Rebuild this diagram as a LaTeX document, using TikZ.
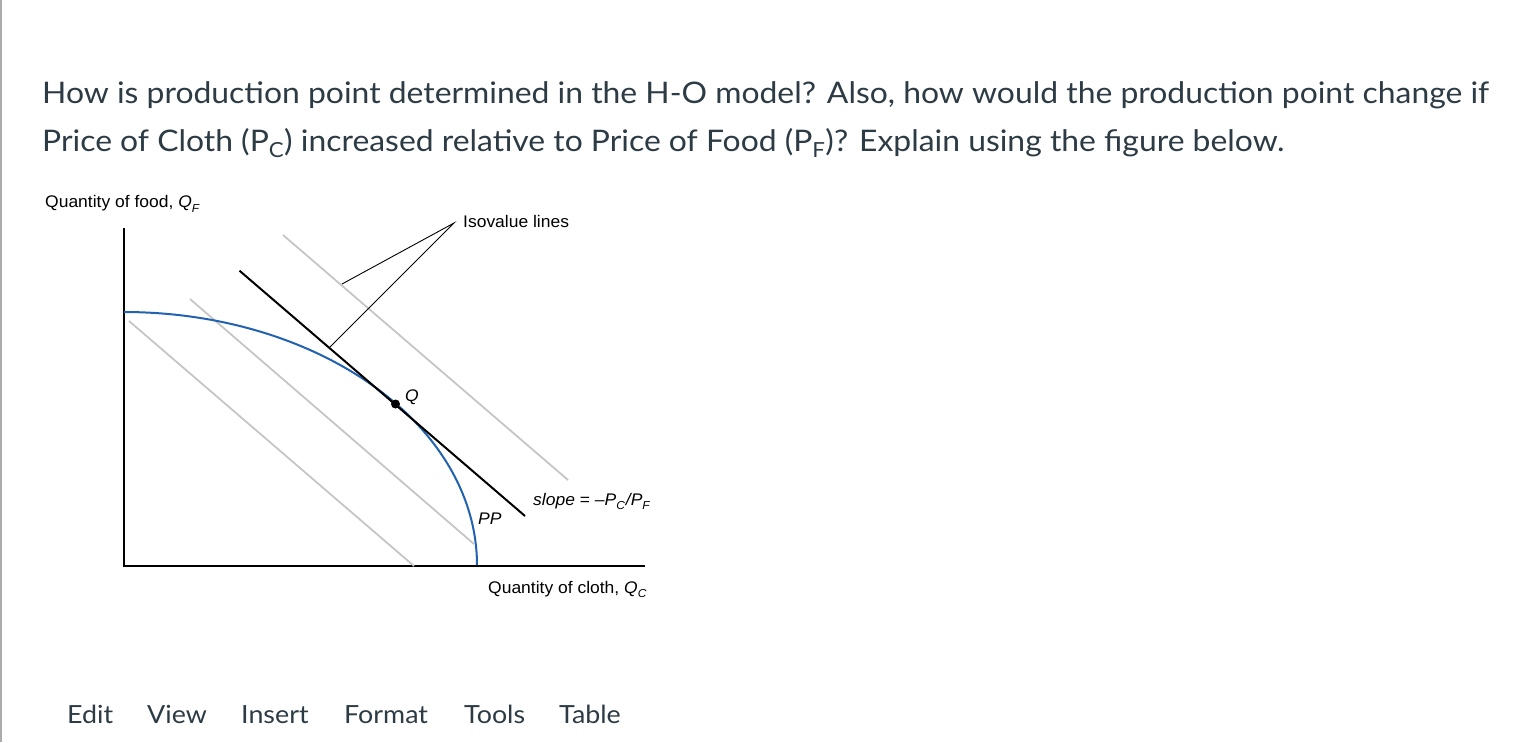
\documentclass[tikz,border=0pt]{standalone}
\usepackage{fontspec}
\setmainfont{Lato}[FakeStretch=1.073]
\newfontfamily\diagfont{Liberation Sans}[FakeStretch=1.04]
\newcommand{\dsub}[1]{\raisebox{-0.55ex}{\fontsize{11.5}{12}\selectfont\textit{#1}}}
\definecolor{qtext}{HTML}{2D3B45}
\definecolor{ppblue}{HTML}{2262B0}
\definecolor{isogray}{HTML}{C6C6C6}
\definecolor{sidebar}{HTML}{ABABAB}
\begin{document}
\begin{tikzpicture}[x=1pt,y=-1pt,
  question/.style={inner sep=0pt, anchor=base west, text=qtext, font=\fontsize{29.7}{35}\selectfont},
  menuitem/.style={inner sep=0pt, anchor=base west, text=qtext, font=\fontsize{25}{29}\selectfont},
  lbl/.style={inner sep=0pt, anchor=base west, text=black, font=\diagfont\fontsize{16.8}{19}\selectfont},
  axis/.style={line width=2pt, black},
  isoline/.style={line width=1.8pt, isogray},
  tangent/.style={line width=2pt, black},
  pointer/.style={line width=0.9pt, black},
  ppcurve/.style={line width=2pt, ppblue}]
\useasboundingbox (0,0) rectangle (1528,742);
\fill[white] (0,0) rectangle (1528,742);
\fill[sidebar] (0,0) rectangle (2,742);
% question
\node[question] (q1) at (42,103) {How is production point determined in the H-O model? Also, how would the production point change if};
\node[question] (q2) at (42,151) {Price of Cloth (P\textsubscript{C}) increased relative to Price of Food (P\textsubscript{F})? Explain using the figure below.};
% axes
\coordinate (ytop) at (124,228);
\coordinate (origin) at (124,566);
\coordinate (xend) at (645,566);
\draw[axis] (ytop) -- (origin) -- (xend);
% isovalue lines
\coordinate (i1a) at (129,321); \coordinate (i1b) at (414,566);
\coordinate (i2a) at (190,299); \coordinate (i2b) at (474,544);
\coordinate (i3a) at (283,235); \coordinate (i3b) at (568,480);
\draw[isoline] (i1a) -- (i1b);
\draw[isoline] (i2a) -- (i2b);
\draw[isoline] (i3a) -- (i3b);
% PP curve
\draw[ppcurve] plot[domain=90:0, samples=80, smooth] ({124+353*cos(\x)},{565-253*sin(\x)});
% tangent
\coordinate (ta) at (239.5,270.7); \coordinate (tb) at (525,516);
\draw[tangent] (ta) -- (tb);
\coordinate (Qpt) at (395.5,404);
\fill[black] (Qpt) circle (4.5);
% labels
\node[lbl] (yl) at (45,207.5) {Quantity of food, \textit{Q}\dsub{F}};
\node[lbl] (iso) at (463,227) {Isovalue lines};
\coordinate (apex) at (454,223);
\coordinate (p1) at (342,284);
\coordinate (p2) at (330,347);
\draw[pointer] (p1) -- (apex) -- (p2);
\node[lbl] (ql) at (405,401) {\textit{Q}};
\node[lbl] (sl) at (533,505) {\textit{slope} = \textit{–P}\dsub{C}\kern1pt\textit{/P}\dsub{F}};
\node[lbl] (pp) at (478,524) {\textit{PP}};
\node[lbl] (xl) at (488,593) {Quantity of cloth, \textit{Q}\dsub{C}};
% menu
\node[menuitem] (m1) at (67,723) {Edit};
\node[menuitem] (m2) at (147,723) {View};
\node[menuitem] (m3) at (241,723) {Insert};
\node[menuitem] (m4) at (344,723) {Format};
\node[menuitem] (m5) at (464,723) {Tools};
\node[menuitem] (m6) at (559,723) {Table};
\end{tikzpicture}
\end{document}
